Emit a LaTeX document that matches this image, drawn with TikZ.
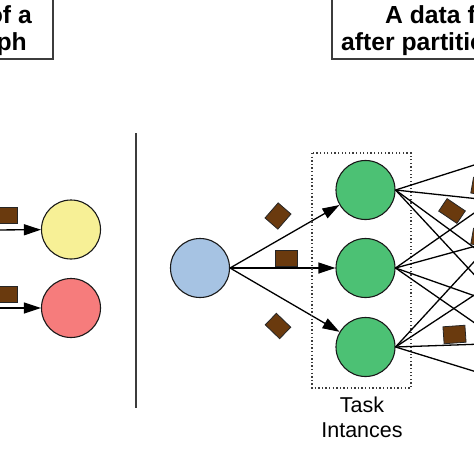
\documentclass[tikz,border=0pt]{standalone}
\usepackage{fontspec}
\setmainfont{Liberation Sans}
\usepackage{tikz}
\usetikzlibrary{arrows.meta,positioning}
\definecolor{yellownode}{RGB}{247,240,150}
\definecolor{rednode}{RGB}{246,124,124}
\definecolor{bluenode}{RGB}{166,195,227}
\definecolor{greennode}{RGB}{76,193,116}
\definecolor{msgbrown}{RGB}{106,58,14}
\definecolor{boxgray}{RGB}{60,60,60}

\tikzset{
  task/.style={circle, draw=black!90, line width=1.1pt, minimum size=59pt, inner sep=0pt},
  msg/.style={draw=black!85, line width=0.8pt, fill=msgbrown, minimum width=22pt, minimum height=16pt, inner sep=0pt},
  flow/.style={line width=1.3pt, -{Triangle[length=17pt,width=11pt]}},
  shuffle/.style={line width=1.3pt},
  headline/.style={font=\bfseries\fontsize{24.7}{28}\selectfont, inner sep=0pt},
  tasktext/.style={font=\fontsize{21.5}{25}\selectfont, align=center, inner sep=0pt}
}

\begin{document}
\begin{tikzpicture}[x=1pt, y=-1pt]
\useasboundingbox (0,0) rectangle (474,474);
\clip (0,0) rectangle (474,474);

% Title boxes
\draw[boxgray, line width=1.3pt] (-250,-30) rectangle (53,59);
\draw[boxgray, line width=1.3pt] (332,-30) rectangle (600,59);
\node[headline, anchor=base east] (ltitle1) at (32,23) {Logical view of a};
\node[headline, anchor=base east] (ltitle2) at (27,50) {data flow graph};
\node[headline, anchor=base west] (rtitle1) at (385,23) {A data flow graph};
\node[headline, anchor=base west] (rtitle2) at (341,50) {after partitioning};

% Separator
\draw[boxgray, line width=1.3pt] (136,133) -- (136,408);

% Left graph
\coordinate (in1) at (-10,230);
\coordinate (in2) at (-10,308);
\node[task, fill=yellownode] (yellow) at (71,229.5) {};
\node[task, fill=rednode] (red) at (71,308) {};
\draw[flow] (in1) -- (yellow);
\draw[flow] (in2) -- (red);
\node[msg] (m1) at (6,215.5) {};
\node[msg] (m2) at (6,294.5) {};

% Right graph: source and task instances
\node[task, fill=bluenode] (blue) at (200,268) {};
\node[task, fill=greennode] (g1) at (365.5,190) {};
\node[task, fill=greennode] (g2) at (365.5,268) {};
\node[task, fill=greennode] (g3) at (365.5,347) {};
\draw[flow] (blue.east) -- (g1);
\draw[flow] (blue.east) -- (g2);
\draw[flow] (blue.east) -- (g3);
\node[msg, minimum width=20pt, minimum height=17pt, rotate=49] (m3) at (278,216) {};
\node[msg] (m4) at (286,258.7) {};
\node[msg, minimum width=20pt, minimum height=16pt, rotate=-44] (m5) at (278,326) {};

% Task instances box
\draw[boxgray, line width=1.2pt, dash pattern=on 1.3pt off 2.3pt] (312,153) rectangle (411,388);
\node[tasktext, anchor=north] (tasklbl) at (362,397) {Task\\Intances};

% Next stage (off to the right)
\coordinate (t1) at (600,125);
\coordinate (t2) at (600,212);
\coordinate (t3) at (600,340);
\coordinate (t4) at (600,410);
\draw[shuffle] (g1.east) -- (t1);
\draw[shuffle] (g1.east) -- (t2);
\draw[shuffle] (g1.east) -- (t3);
\draw[shuffle] (g1.east) -- (t4);
\draw[shuffle] (g2.east) -- (t1);
\draw[shuffle] (g2.east) -- (t2);
\draw[shuffle] (g2.east) -- (t3);
\draw[shuffle] (g2.east) -- (t4);
\draw[shuffle] (g3.east) -- (t1);
\draw[shuffle] (g3.east) -- (t2);
\draw[shuffle] (g3.east) -- (t3);
\draw[shuffle] (g3.east) -- (t4);
\node[msg, rotate=-10] (m6) at (483,187) {};
\node[msg, minimum height=15pt, rotate=-34] (m7) at (452,211) {};
\node[msg, rotate=-10] (m8) at (483,238) {};
\node[msg, minimum height=17pt, rotate=4] (m9) at (454.5,334.5) {};
\end{tikzpicture}
\end{document}
